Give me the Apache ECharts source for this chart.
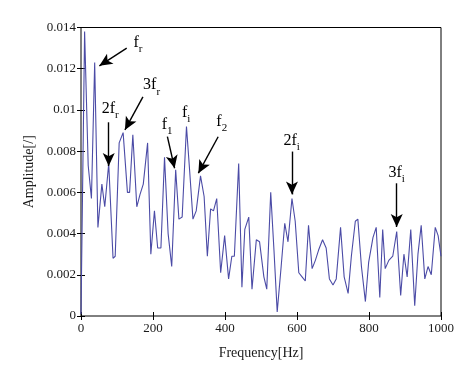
<!DOCTYPE html>
<html><head><meta charset="utf-8">
<script src="https://cdn.jsdelivr.net/npm/echarts@6/dist/echarts.min.js"></script>
<style>html,body{margin:0;padding:0;background:#fff}#c{width:474px;height:381px}</style>
</head><body><div id="c"></div>
<script>
const freqs = [0,10,20,29,38,47,58,66,77,89,95,106,117,129,135,144,155,164,173,185,194,204,213,222,232,242,252,263,272,281,293,302,311,320,332,342,351,360,368,377,388,399,410,419,426,438,447,455,466,475,487,496,501,508,516,527,536,545,556,566,575,586,595,605,614,623,632,642,651,660,671,681,690,700,709,721,731,742,751,762,769,779,790,799,811,820,830,838,845,855,866,877,888,897,906,916,927,936,945,955,964,973,984,992,1000];
const amps = [0.0001,0.0138,0.0073,0.0057,0.0123,0.0043,0.0064,0.0053,0.0074,0.0028,0.0029,0.0084,0.0089,0.0060,0.0060,0.0088,0.0053,0.0059,0.0064,0.0084,0.0030,0.0051,0.0033,0.0033,0.0077,0.0040,0.0024,0.0071,0.0047,0.0048,0.0092,0.0070,0.0047,0.0051,0.0068,0.0058,0.0029,0.0052,0.0051,0.0057,0.0021,0.0039,0.0018,0.0029,0.0029,0.0074,0.0014,0.0042,0.0048,0.0013,0.0037,0.0036,0.0036,0.0019,0.0013,0.0060,0.0032,0.0002,0.0024,0.0045,0.0036,0.0057,0.0046,0.0021,0.0019,0.0017,0.0044,0.0023,0.0027,0.0032,0.0037,0.0033,0.0018,0.0015,0.0018,0.0043,0.0019,0.0011,0.0029,0.0046,0.0047,0.0024,0.0007,0.0026,0.0038,0.0043,0.0009,0.0042,0.0023,0.0027,0.0029,0.0041,0.0010,0.0030,0.0019,0.0042,0.0005,0.0030,0.0044,0.0018,0.0024,0.0020,0.0043,0.0039,0.0029];
const xTicks = ['0','200','400','600','800','1000'];
const yTicks = ['0','0.002','0.004','0.006','0.008','0.01','0.012','0.014'];
// annotation labels: [prefix, subscript, x, y]
const labels = [
  ['f','r',158,0.01318],
  ['2f','r',81,0.00995],
  ['3f','r',196,0.0111],
  ['f','1',239,0.0092],
  ['f','i',292,0.00975],
  ['f','2',391,0.00935],
  ['2f','i',585,0.0084],
  ['3f','i',877,0.00686]
];
// arrows: [x0,y0,x1,y1] tail -> tip
const arrows = [
  [127,0.0130,51,0.01214],
  [77,0.00940,77,0.00728],
  [172,0.01063,122,0.00903],
  [240,0.0087,260,0.00717],
  [381,0.0087,326,0.00693],
  [586,0.00798,586,0.00590],
  [877,0.00644,877,0.00432]
];

const chart = echarts.init(document.getElementById('c'));
const serif = '"Liberation Serif","DejaVu Serif",serif';
const txt = '#1a1a1a';
const axisCommon = {
  axisLine:{show:false},
  splitLine:{show:false},
  axisTick:{inside:true,length:4,lineStyle:{color:'#000'}}
};
chart.setOption({
  animation:false,
  backgroundColor:'#fff',
  grid:{left:81,right:33,top:27.5,bottom:65,show:true,borderColor:'#000',borderWidth:1,backgroundColor:'transparent'},
  xAxis:[
    Object.assign({type:'value',min:0,max:1000,interval:200,position:'bottom',
      name:'Frequency[Hz]',nameLocation:'middle',nameGap:30,
      nameTextStyle:{fontFamily:serif,fontSize:14,color:txt},
      axisLabel:{fontFamily:serif,fontSize:13,color:txt,margin:6,
        formatter:v=>xTicks[Math.round(v/200)]}}, axisCommon),
    Object.assign({type:'value',min:0,max:1000,interval:200,position:'top',axisLabel:{show:false}}, axisCommon)
  ],
  yAxis:[
    Object.assign({type:'value',min:0,max:0.014,interval:0.002,position:'left',
      name:'Amplitude[/]',nameLocation:'middle',nameGap:44,nameRotate:90,
      nameTextStyle:{fontFamily:serif,fontSize:14,color:txt},
      axisLabel:{fontFamily:serif,fontSize:13,color:txt,margin:5,
        formatter:v=>yTicks[Math.round(v/0.002)]}}, axisCommon),
    Object.assign({type:'value',min:0,max:0.014,interval:0.002,position:'right',axisLabel:{show:false}}, axisCommon)
  ],
  series:[
    {type:'line',xAxisIndex:0,yAxisIndex:0,data:freqs.map((f,i)=>[f,amps[i]]),
      showSymbol:false,symbol:'none',lineStyle:{color:'#4b4ba6',width:1.1},
      markLine:{silent:true,symbol:['none','arrow'],symbolSize:[9,13],
        label:{show:false},lineStyle:{color:'#000',width:1.4,type:'solid'},
        data:arrows.map(a=>[{coord:[a[0],a[1]]},{coord:[a[2],a[3]]}])}
    },
    {type:'scatter',xAxisIndex:0,yAxisIndex:0,symbolSize:1,itemStyle:{color:'rgba(0,0,0,0)'},silent:true,
      data:labels.map(l=>[l[2],l[3]]),
      label:{show:true,position:'inside',color:'#000',opacity:1,textBorderWidth:0,
        formatter:p=>'{a|'+labels[p.dataIndex][0]+'}{b|'+labels[p.dataIndex][1]+'}',
        rich:{
          a:{fontFamily:serif,fontSize:16,color:'#000',lineHeight:17,verticalAlign:'top',textBorderWidth:0},
          b:{fontFamily:serif,fontSize:11,color:'#000',lineHeight:20,verticalAlign:'bottom',textBorderWidth:0}
        }}
    }
  ]
});
</script></body></html>
